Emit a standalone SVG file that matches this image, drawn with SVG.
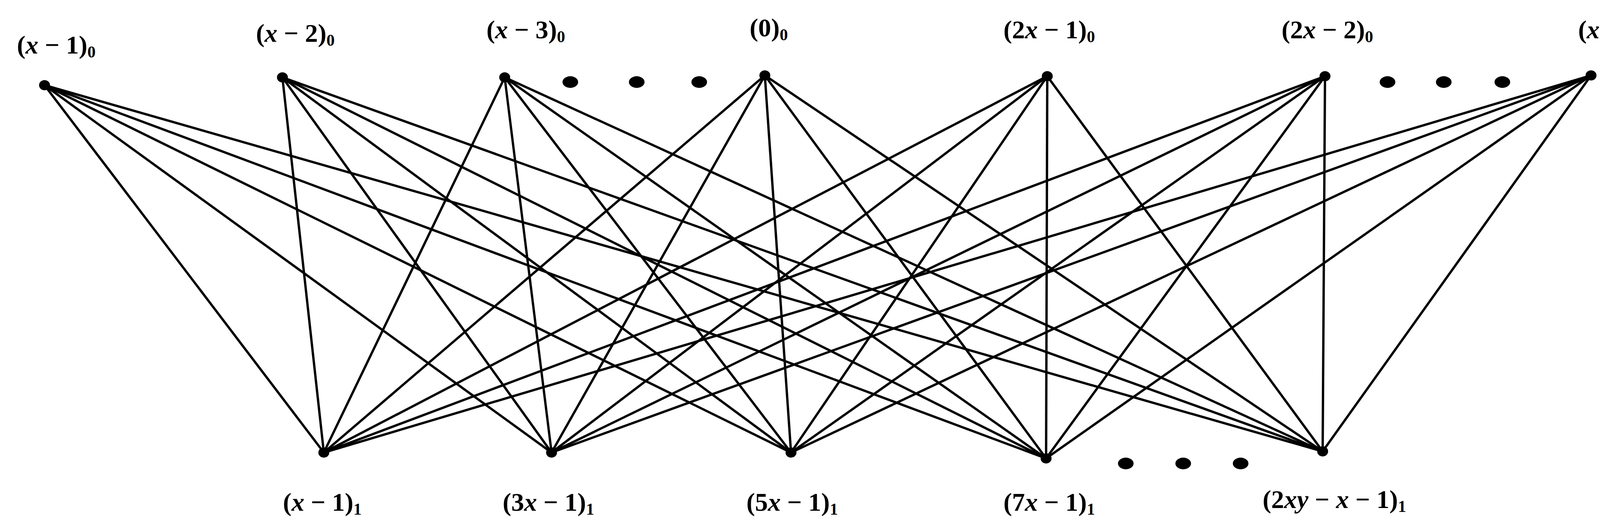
<svg xmlns="http://www.w3.org/2000/svg" width="4184" height="1346" viewBox="0 0 4184 1346">
<style>
.e line{stroke:#000;stroke-width:6}
.n{fill:#000}
text{font-family:"Liberation Serif","Times New Roman",serif;font-weight:bold;font-size:66px;text-anchor:middle;fill:#000}
text.st{text-anchor:start}
.s{font-size:42px}
</style>
<rect width="4184" height="1346" fill="#fff"/>
<g class="e" id="connectors">
<line x1="114" y1="218" x2="829" y2="1158"/><line x1="114" y1="218" x2="1412" y2="1158"/><line x1="114" y1="218" x2="2025" y2="1158"/><line x1="114" y1="218" x2="2678" y2="1173"/><line x1="114" y1="218" x2="3386" y2="1155"/>
<line x1="723" y1="198" x2="829" y2="1158"/><line x1="723" y1="198" x2="1412" y2="1158"/><line x1="723" y1="198" x2="2025" y2="1158"/><line x1="723" y1="198" x2="2678" y2="1173"/><line x1="723" y1="198" x2="3386" y2="1155"/>
<line x1="1292" y1="198" x2="829" y2="1158"/><line x1="1292" y1="198" x2="1412" y2="1158"/><line x1="1292" y1="198" x2="2025" y2="1158"/><line x1="1292" y1="198" x2="2678" y2="1173"/><line x1="1292" y1="198" x2="3386" y2="1155"/>
<line x1="1958" y1="193" x2="829" y2="1158"/><line x1="1958" y1="193" x2="1412" y2="1158"/><line x1="1958" y1="193" x2="2025" y2="1158"/><line x1="1958" y1="193" x2="2678" y2="1173"/><line x1="1958" y1="193" x2="3386" y2="1155"/>
<line x1="2681" y1="195" x2="829" y2="1158"/><line x1="2681" y1="195" x2="1412" y2="1158"/><line x1="2681" y1="195" x2="2025" y2="1158"/><line x1="2681" y1="195" x2="2678" y2="1173"/><line x1="2681" y1="195" x2="3386" y2="1155"/>
<line x1="3392" y1="195" x2="829" y2="1158"/><line x1="3392" y1="195" x2="1412" y2="1158"/><line x1="3392" y1="195" x2="2025" y2="1158"/><line x1="3392" y1="195" x2="2678" y2="1173"/><line x1="3392" y1="195" x2="3386" y2="1155"/>
<line x1="4073" y1="193" x2="829" y2="1158"/><line x1="4073" y1="193" x2="1412" y2="1158"/><line x1="4073" y1="193" x2="2025" y2="1158"/><line x1="4073" y1="193" x2="2678" y2="1173"/><line x1="4073" y1="193" x2="3386" y2="1155"/>
</g>
<g id="ellipses" class="n">
<ellipse cx="1460" cy="210" rx="20" ry="15"/><ellipse cx="1630" cy="210" rx="20" ry="15"/><ellipse cx="1790" cy="210" rx="20" ry="15"/>
<ellipse cx="3552" cy="210" rx="20" ry="15"/><ellipse cx="3696" cy="210" rx="20" ry="15"/><ellipse cx="3846" cy="210" rx="20" ry="15"/>
<ellipse cx="2882" cy="1186" rx="20" ry="15"/><ellipse cx="3029" cy="1186" rx="20" ry="15"/><ellipse cx="3176" cy="1186" rx="20" ry="15"/>
</g>
<g id="t1"><ellipse class="n" cx="114" cy="218" rx="14" ry="13"/><text x="144" y="137">(<tspan font-style="italic">x</tspan> − 1)<tspan class="s" dy="10">0</tspan></text></g>
<g id="t2"><ellipse class="n" cx="723" cy="198" rx="14" ry="13"/><text x="756" y="107">(<tspan font-style="italic">x</tspan> − 2)<tspan class="s" dy="10">0</tspan></text></g>
<g id="t3"><ellipse class="n" cx="1292" cy="198" rx="14" ry="13"/><text x="1346" y="98">(<tspan font-style="italic">x</tspan> − 3)<tspan class="s" dy="10">0</tspan></text></g>
<g id="t4"><ellipse class="n" cx="1958" cy="193" rx="14" ry="13"/><text x="1968" y="93">(0)<tspan class="s" dy="10">0</tspan></text></g>
<g id="t5"><ellipse class="n" cx="2681" cy="195" rx="14" ry="13"/><text x="2686" y="98">(2<tspan font-style="italic">x</tspan> − 1)<tspan class="s" dy="10">0</tspan></text></g>
<g id="t6"><ellipse class="n" cx="3392" cy="195" rx="14" ry="13"/><text x="3398" y="98">(2<tspan font-style="italic">x</tspan> − 2)<tspan class="s" dy="10">0</tspan></text></g>
<g id="t7"><ellipse class="n" cx="4073" cy="193" rx="14" ry="13"/><text class="st" x="4040" y="98">(<tspan font-style="italic">x</tspan>)<tspan class="s" dy="10">0</tspan></text></g>
<g id="b1"><ellipse class="n" cx="829" cy="1158" rx="14" ry="13"/><text x="825" y="1307">(<tspan font-style="italic">x</tspan> − 1)<tspan class="s" dy="10">1</tspan></text></g>
<g id="b2"><ellipse class="n" cx="1412" cy="1158" rx="14" ry="13"/><text x="1404" y="1307">(3<tspan font-style="italic">x</tspan> − 1)<tspan class="s" dy="10">1</tspan></text></g>
<g id="b3"><ellipse class="n" cx="2025" cy="1158" rx="14" ry="13"/><text x="2028" y="1307">(5<tspan font-style="italic">x</tspan> − 1)<tspan class="s" dy="10">1</tspan></text></g>
<g id="b4"><ellipse class="n" cx="2678" cy="1173" rx="14" ry="13"/><text x="2686" y="1307">(7<tspan font-style="italic">x</tspan> − 1)<tspan class="s" dy="10">1</tspan></text></g>
<g id="b5"><ellipse class="n" cx="3386" cy="1155" rx="14" ry="13"/><text x="3416" y="1300">(2<tspan font-style="italic">xy</tspan> − <tspan font-style="italic">x</tspan> − 1)<tspan class="s" dy="10">1</tspan></text></g>
</svg>
